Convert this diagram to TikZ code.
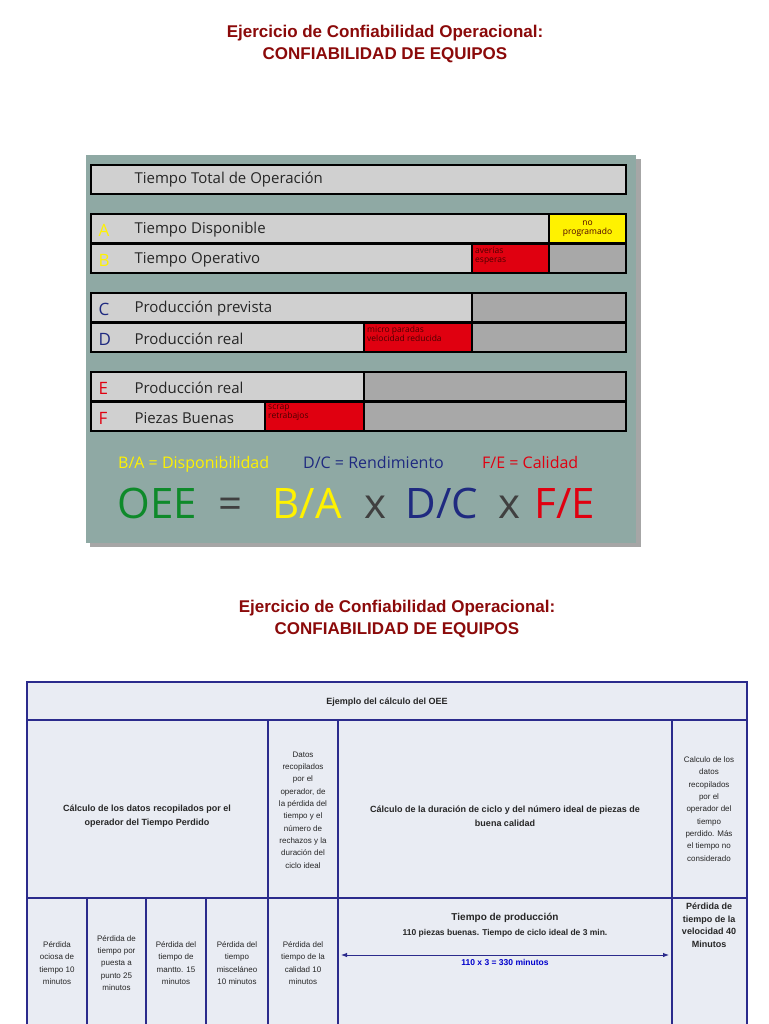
\documentclass[tikz,border=0pt]{standalone}
\usepackage{fontspec}
\setmainfont{Liberation Sans}
\newfontfamily\panelfont{Open Sans}
\usetikzlibrary{arrows.meta}
\definecolor{ttl}{HTML}{8B0A0A}
\definecolor{teal}{HTML}{8FA9A4}
\definecolor{lg}{HTML}{D0D0D0}
\definecolor{dg}{HTML}{A8A8A8}
\definecolor{ry}{HTML}{FFF200}
\definecolor{rr}{HTML}{E00010}
\definecolor{nv}{HTML}{1F2A80}
\definecolor{gr}{HTML}{0E8A2A}
\definecolor{tb}{HTML}{E9ECF3}
\definecolor{tl}{HTML}{2B2B8C}
\begin{document}
\begin{tikzpicture}[x=1pt,y=-1pt,
  titl/.style={font=\fontsize{17}{22}\selectfont\bfseries,text=ttl,align=center},
  bar/.style={draw=black,line width=1.2pt},
  lbl/.style={anchor=west,font=\panelfont\fontsize{15}{17}\selectfont,text=black!85},
  let/.style={anchor=west,font=\panelfont\fontsize{17}{19}\selectfont},
  sm/.style={anchor=north west,font=\panelfont\fontsize{8.5}{8.5}\selectfont,align=left,inner sep=1pt,text=black!70!red},
  cell/.style={font=\fontsize{8.5}{11.5}\selectfont,align=center,text=black!85},
  tline/.style={draw=tl,line width=1.4pt}]
\useasboundingbox (0,0) rectangle (768,1024);
\fill[white] (0,0) rectangle (768,1024);
% titles
\node[titl] (t1) at (385,44) {Ejercicio de Confiabilidad Operacional:\\CONFIABILIDAD DE EQUIPOS};
\node[titl] (t2) at (397,619) {Ejercicio de Confiabilidad Operacional:\\CONFIABILIDAD DE EQUIPOS};
% panel
\fill[black!35] (90,159) rectangle (641,547);
\fill[teal] (86,155) rectangle (636,543);
\draw[bar,fill=lg] (91,165) rectangle (626,194);
\node[lbl] (l0) at (131,180) {Tiempo Total de Operación};
% A,B
\draw[bar,fill=lg] (91,214) rectangle (549,243);
\draw[bar,fill=ry] (549,214) rectangle (626,243);
\node[font=\panelfont\fontsize{8.5}{9}\selectfont,align=center,inner sep=0pt,text=black!70!red] (np) at (587.5,228.5) {no\\programado};
\draw[bar,fill=lg] (91,244) rectangle (472,273);
\draw[bar,fill=rr] (472,244) rectangle (549,273);
\draw[bar,fill=dg] (549,244) rectangle (626,273);
\node[sm] (av) at (474,246) {averías\\esperas};
\node[let,text=ry] (la) at (95,230) {A};
\node[lbl] (ta) at (131,230) {Tiempo Disponible};
\node[let,text=ry] (lb) at (95,260) {B};
\node[lbl] (tbb) at (131,260) {Tiempo Operativo};
% C,D
\draw[bar,fill=lg] (91,293) rectangle (472,322);
\draw[bar,fill=dg] (472,293) rectangle (626,322);
\draw[bar,fill=lg] (91,323) rectangle (364,352);
\draw[bar,fill=rr] (364,323) rectangle (472,352);
\draw[bar,fill=dg] (472,323) rectangle (626,352);
\node[sm] (mp) at (366,325) {micro paradas\\velocidad reducida};
\node[let,text=nv] (lc) at (95,309) {C};
\node[lbl] (tc) at (131,309) {Producción prevista};
\node[let,text=nv] (ld) at (95,339) {D};
\node[lbl] (td) at (131,339) {Producción real};
% E,F
\draw[bar,fill=lg] (91,372) rectangle (364,401);
\draw[bar,fill=dg] (364,372) rectangle (626,401);
\draw[bar,fill=lg] (91,402) rectangle (265,431);
\draw[bar,fill=rr] (265,402) rectangle (364,431);
\draw[bar,fill=dg] (364,402) rectangle (626,431);
\node[sm] (sc) at (267,404) {scrap\\retrabajos};
\node[let,text=rr] (le) at (95,388) {E};
\node[lbl] (te) at (131,388) {Producción real};
\node[let,text=rr] (lf) at (95,418) {F};
\node[lbl] (tf) at (131,418) {Piezas Buenas};
% formulas
\begin{scope}[every node/.style={anchor=base west,font=\panelfont\fontsize{16}{18}\selectfont,inner sep=0pt}]
\node[text=ry] (fa) at (118,468) {B/A = Disponibilidad};
\node[text=nv] (fb) at (303,468) {D/C = Rendimiento};
\node[text=rr] (fc) at (482,468) {F/E = Calidad};
\end{scope}
\begin{scope}[every node/.style={anchor=base,font=\panelfont\fontsize{42}{44}\selectfont,inner sep=0pt}]
\node[text=gr] (o1) at (157,518) {OEE};
\node[text=black!75] (o2) at (231,518) {=};
\node[text=ry] (o3) at (307,518) {B/A};
\node[text=black!75] (o4) at (375,518) {x};
\node[text=nv] (o5) at (442,518) {D/C};
\node[text=black!75] (o6) at (509,518) {x};
\node[text=rr] (o7) at (565,518) {F/E};
\end{scope}
% table
\fill[tb] (27,682) rectangle (747,1030);
\draw[tline] (27,1030) -- (27,682) -- (747,682) -- (747,1030);
\draw[tline] (27,720) -- (747,720);
\draw[tline] (27,898) -- (747,898);
\foreach \x in {268,338,672} \draw[tline] (\x,720) -- (\x,1030);
\foreach \x in {87,146,206} \draw[tline] (\x,898) -- (\x,1030);
\node[cell,font=\fontsize{9}{11}\selectfont\bfseries] (h0) at (387,702) {Ejemplo del cálculo del OEE};
\node[cell,font=\fontsize{9}{14}\selectfont\bfseries] (h1) at (147,816) {Cálculo de los datos recopilados por el\\operador del Tiempo Perdido};
\node[cell,font=\fontsize{8}{12.3}\selectfont] (h2) at (303,810) {Datos\\recopilados\\por el\\operador, de\\la pérdida del\\tiempo y el\\número de\\rechazos y la\\duración del\\ciclo ideal};
\node[cell,font=\fontsize{9}{14}\selectfont\bfseries] (h3) at (505,816) {Cálculo de la duración de ciclo y del número ideal de piezas de\\buena calidad};
\node[cell,font=\fontsize{8}{12.3}\selectfont] (h4) at (709,809) {Calculo de los\\datos\\recopilados\\por el\\operador del\\tiempo\\perdido. Más\\el tiempo no\\considerado};
\begin{scope}[every node/.style={cell,font=\fontsize{8}{12.3}\selectfont,inner sep=1pt}]
\node (c1) at (57,963) {Pérdida\\ociosa de\\tiempo 10\\minutos};
\node (c2) at (116.5,963) {Pérdida de\\tiempo por\\puesta a\\punto 25\\minutos};
\node (c3) at (176,963) {Pérdida del\\tiempo de\\mantto. 15\\minutos};
\node (c4) at (237,963) {Pérdida del\\tiempo\\misceláneo\\10 minutos};
\node (c5) at (303,963) {Pérdida del\\tiempo de la\\calidad 10\\minutos};
\end{scope}
\node[cell,font=\fontsize{9}{12.5}\selectfont\bfseries] (c7) at (709,925) {Pérdida de\\tiempo de la\\velocidad 40\\Minutos};
\node[cell,font=\fontsize{10}{11}\selectfont\bfseries] (p1) at (505,918) {Tiempo de producción};
\node[cell,font=\fontsize{8.5}{11}\selectfont\bfseries] (p2) at (505,933) {110 piezas buenas. Tiempo de ciclo ideal de 3 min.};
\coordinate (al) at (341,955);
\coordinate (ar) at (669,955);
\draw[tl,line width=0.9pt,{Latex[length=6pt]}-{Latex[length=6pt]}] (al) -- (ar);
\node[cell,font=\fontsize{8.5}{11}\selectfont\bfseries,text=blue!80!black] (p3) at (505,962) {110 x 3 = 330 minutos};
\end{tikzpicture}
\end{document}
